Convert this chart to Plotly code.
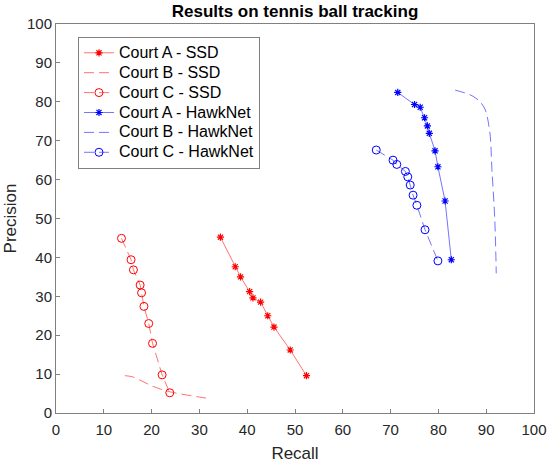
import plotly.graph_objects as go

# Court A - SSD
ssd_a_recall = [34.4, 37.5, 38.6, 40.5, 41.2, 42.8, 44.3, 45.6, 49.0, 52.4]
ssd_a_precision = [45.2, 37.6, 35.0, 31.2, 29.6, 28.5, 25.0, 22.1, 16.2, 9.6]

# Court B - SSD (curve, no markers)
ssd_b_recall = [14.4, 16.0, 18.0, 20.0, 22.0, 24.0, 26.0, 28.0, 30.0, 32.1]
ssd_b_precision = [9.6, 9.3, 8.2, 7.0, 6.1, 5.4, 4.9, 4.5, 4.1, 3.7]

# Court C - SSD
ssd_c_recall = [13.7, 15.7, 16.2, 17.6, 17.9, 18.4, 19.4, 20.2, 22.2, 23.8]
ssd_c_precision = [44.9, 39.4, 36.8, 32.9, 30.9, 27.4, 23.0, 17.9, 9.8, 5.2]

# Court A - HawkNet
hn_a_recall = [71.5, 75.0, 76.2, 77.1, 77.7, 78.1, 79.3, 79.9, 81.4, 82.7]
hn_a_precision = [82.4, 79.3, 78.6, 75.9, 73.8, 71.9, 67.4, 63.3, 54.5, 39.4]

# Court B - HawkNet (curve, no markers)
hn_b_recall = [83.5, 87.4, 89.5, 90.7, 91.2, 91.8, 92.1]
hn_b_precision = [83.0, 81.3, 78.7, 72.7, 62.5, 49.6, 35.9]

# Court C - HawkNet
hn_c_recall = [67.0, 70.5, 71.3, 73.1, 73.6, 74.1, 74.7, 75.5, 77.2, 79.9]
hn_c_precision = [67.6, 65.0, 63.9, 62.1, 60.7, 58.6, 56.0, 53.4, 47.1, 39.1]

ticks = [0, 10, 20, 30, 40, 50, 60, 70, 80, 90, 100]

red_line = 'rgba(255,0,0,0.55)'
blue_line = 'rgba(0,0,255,0.55)'
dashed = '10px,5px'


def label(s):
    # bigger text than the legend font, so the rows stay tight like the original
    return '<span style="font-size:16px">' + s + '</span>'


fig = go.Figure()
fig.add_trace(go.Scatter(
    x=ssd_a_recall, y=ssd_a_precision, name=label('Court A - SSD'),
    mode='lines+markers', line=dict(color=red_line, width=1),
    marker=dict(symbol='asterisk-open', size=6, color='red', line=dict(color='red', width=1.2))
))
fig.add_trace(go.Scatter(
    x=ssd_b_recall, y=ssd_b_precision, name=label('Court B - SSD'),
    mode='lines', line=dict(color=red_line, width=1, dash=dashed, shape='spline')
))
fig.add_trace(go.Scatter(
    x=ssd_c_recall, y=ssd_c_precision, name=label('Court C - SSD'),
    mode='lines+markers', line=dict(color=red_line, width=1, dash=dashed),
    marker=dict(symbol='circle-open', size=8, color='red', line=dict(color='red', width=1))
))
fig.add_trace(go.Scatter(
    x=hn_a_recall, y=hn_a_precision, name=label('Court A - HawkNet'),
    mode='lines+markers', line=dict(color=blue_line, width=1),
    marker=dict(symbol='asterisk-open', size=6, color='blue', line=dict(color='blue', width=1.2))
))
fig.add_trace(go.Scatter(
    x=hn_b_recall, y=hn_b_precision, name=label('Court B - HawkNet'),
    mode='lines', line=dict(color=blue_line, width=1, dash=dashed, shape='spline')
))
fig.add_trace(go.Scatter(
    x=hn_c_recall, y=hn_c_precision, name=label('Court C - HawkNet'),
    mode='lines+markers', line=dict(color=blue_line, width=1, dash=dashed),
    marker=dict(symbol='circle-open', size=8, color='blue', line=dict(color='blue', width=1))
))

axis_style = dict(
    range=[0, 100], tickvals=ticks, ticks='inside', ticklen=4, tickcolor='#808080',
    showline=True, linecolor='#808080', linewidth=1, mirror=True,
    showgrid=False, zeroline=False, automargin=False,
    tickfont=dict(size=15, color='#262626'),
)

fig.update_layout(
    width=550, height=463,
    margin=dict(l=56, r=16, t=24, b=50),
    paper_bgcolor='white', plot_bgcolor='white',
    font=dict(family='Liberation Sans, Arial, sans-serif', color='#262626'),
    title=dict(text='<b>Results on tennis ball tracking</b>', xref='paper', x=0.5, xanchor='center',
               y=0.976, yanchor='middle', font=dict(size=17, color='black')),
    xaxis=dict(title=dict(text='Recall', font=dict(size=17), standoff=11),
               ticklabelstandoff=3, **axis_style),
    yaxis=dict(title=dict(text='Precision', font=dict(size=17), standoff=6), **axis_style),
    legend=dict(x=0.046, y=0.967, xanchor='left', yanchor='top',
                bordercolor='#808080', borderwidth=1, bgcolor='white',
                font=dict(size=13, color='black'), tracegroupgap=0),
    showlegend=True,
)

# the page body has an 8px default margin; drop it so the figure fills the window
fig.write_html("out.html", config={'displayModeBar': False},
               post_script="document.body.style.margin='0';")
